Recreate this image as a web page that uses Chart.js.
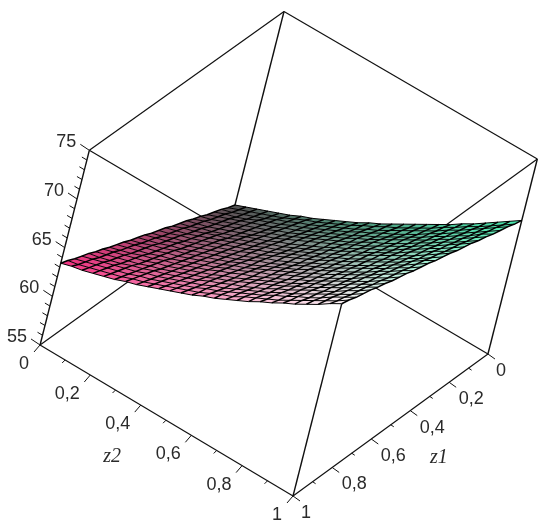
<!DOCTYPE html>
<html>
<head>
<meta charset="utf-8">
<title>Surface z1 z2</title>
<script src="https://cdn.jsdelivr.net/npm/chart.js@4"></script>
<style>
  html, body { margin: 0; padding: 0; background: #fff; }
  canvas { display: block; }
</style>
</head>
<body>
<canvas id="chartCanvas" width="550" height="532"></canvas>
<script>
// tick labels
const zTicks = [55, 60, 65, 70, 75];
const z1Ticks = [0, 0.2, 0.4, 0.6, 0.8, 1];
const z2Ticks = [0, 0.2, 0.4, 0.6, 0.8, 1];
const z1Minor = [0.1, 0.3, 0.5, 0.7, 0.9];
const z2Minor = [0.1, 0.3, 0.5, 0.7, 0.9];
const zMinor = [56, 57, 58, 59, 61, 62, 63, 64, 66, 67, 68, 69, 71, 72, 73, 74];

// surface values, one row per z2 step (0 to 1), one column per z1 step (0 to 1)
const surfaceZ = [
  [55.0,55.3,55.7,56.0,56.3,56.7,57.0,57.4,57.7,58.0,58.4,58.7,59.0,59.4,59.7,60.0,60.4,60.7,61.0,61.4,61.7,62.1,62.4,62.7,63.1,63.4],
  [55.4,55.7,56.0,56.4,56.7,57.0,57.4,57.7,58.0,58.4,58.7,59.0,59.3,59.7,60.0,60.3,60.7,61.0,61.3,61.7,62.0,62.3,62.7,63.0,63.3,63.7],
  [55.8,56.1,56.4,56.7,57.1,57.4,57.7,58.0,58.4,58.7,59.0,59.4,59.7,60.0,60.3,60.7,61.0,61.3,61.6,62.0,62.3,62.6,63.0,63.3,63.6,63.9],
  [56.2,56.5,56.8,57.1,57.5,57.8,58.1,58.4,58.7,59.1,59.4,59.7,60.0,60.4,60.7,61.0,61.3,61.6,62.0,62.3,62.6,62.9,63.3,63.6,63.9,64.2],
  [56.6,56.9,57.2,57.6,57.9,58.2,58.5,58.8,59.1,59.5,59.8,60.1,60.4,60.7,61.0,61.4,61.7,62.0,62.3,62.6,62.9,63.3,63.6,63.9,64.2,64.5],
  [57.0,57.3,57.7,58.0,58.3,58.6,58.9,59.2,59.5,59.8,60.2,60.5,60.8,61.1,61.4,61.7,62.0,62.3,62.7,63.0,63.3,63.6,63.9,64.2,64.5,64.8],
  [57.5,57.8,58.1,58.4,58.7,59.0,59.3,59.6,60.0,60.3,60.6,60.9,61.2,61.5,61.8,62.1,62.4,62.7,63.0,63.3,63.6,64.0,64.3,64.6,64.9,65.2],
  [57.9,58.3,58.6,58.9,59.2,59.5,59.8,60.1,60.4,60.7,61.0,61.3,61.6,61.9,62.2,62.5,62.8,63.1,63.4,63.7,64.0,64.3,64.6,64.9,65.2,65.5],
  [58.4,58.7,59.0,59.3,59.6,59.9,60.2,60.5,60.8,61.1,61.4,61.7,62.0,62.3,62.6,62.9,63.2,63.5,63.8,64.1,64.4,64.7,65.0,65.3,65.6,65.9],
  [58.9,59.2,59.5,59.8,60.1,60.4,60.7,61.0,61.3,61.6,61.9,62.2,62.5,62.7,63.0,63.3,63.6,63.9,64.2,64.5,64.8,65.1,65.4,65.7,66.0,66.3],
  [59.4,59.7,60.0,60.3,60.6,60.9,61.2,61.5,61.7,62.0,62.3,62.6,62.9,63.2,63.5,63.8,64.1,64.4,64.7,64.9,65.2,65.5,65.8,66.1,66.4,66.7],
  [59.9,60.2,60.5,60.8,61.1,61.4,61.7,62.0,62.2,62.5,62.8,63.1,63.4,63.7,64.0,64.2,64.5,64.8,65.1,65.4,65.7,66.0,66.2,66.5,66.8,67.1],
  [60.5,60.8,61.0,61.3,61.6,61.9,62.2,62.5,62.7,63.0,63.3,63.6,63.9,64.1,64.4,64.7,65.0,65.3,65.6,65.8,66.1,66.4,66.7,67.0,67.2,67.5],
  [61.0,61.3,61.6,61.9,62.1,62.4,62.7,63.0,63.2,63.5,63.8,64.1,64.4,64.6,64.9,65.2,65.5,65.8,66.0,66.3,66.6,66.9,67.1,67.4,67.7,68.0],
  [61.6,61.9,62.1,62.4,62.7,63.0,63.2,63.5,63.8,64.1,64.3,64.6,64.9,65.1,65.4,65.7,66.0,66.2,66.5,66.8,67.1,67.3,67.6,67.9,68.2,68.4],
  [62.2,62.4,62.7,63.0,63.2,63.5,63.8,64.1,64.3,64.6,64.9,65.1,65.4,65.7,66.0,66.2,66.5,66.8,67.0,67.3,67.6,67.8,68.1,68.4,68.6,68.9],
  [62.8,63.0,63.3,63.5,63.8,64.1,64.4,64.6,64.9,65.2,65.4,65.7,66.0,66.2,66.5,66.8,67.0,67.3,67.5,67.8,68.1,68.3,68.6,68.9,69.2,69.4],
  [63.4,63.6,63.9,64.1,64.4,64.7,64.9,65.2,65.5,65.7,66.0,66.2,66.5,66.8,67.0,67.3,67.6,67.8,68.1,68.3,68.6,68.9,69.1,69.4,69.7,69.9],
  [64.0,64.2,64.5,64.7,65.0,65.3,65.5,65.8,66.0,66.3,66.6,66.8,67.1,67.3,67.6,67.9,68.1,68.4,68.6,68.9,69.2,69.4,69.7,70.0,70.2,70.5],
  [64.6,64.9,65.1,65.4,65.6,65.9,66.1,66.4,66.6,66.9,67.2,67.4,67.7,67.9,68.2,68.4,68.7,68.9,69.2,69.5,69.7,70.0,70.2,70.5,70.7,71.0],
  [65.3,65.5,65.8,66.0,66.3,66.5,66.8,67.0,67.3,67.5,67.8,68.0,68.3,68.5,68.8,69.0,69.3,69.5,69.8,70.0,70.3,70.6,70.8,71.1,71.3,71.6],
  [65.9,66.2,66.4,66.7,66.9,67.2,67.4,67.7,67.9,68.2,68.4,68.6,68.9,69.1,69.4,69.6,69.9,70.1,70.4,70.6,70.9,71.1,71.4,71.6,71.9,72.1],
  [66.6,66.8,67.1,67.3,67.6,67.8,68.1,68.3,68.6,68.8,69.0,69.3,69.5,69.8,70.0,70.3,70.5,70.8,71.0,71.3,71.5,71.7,72.0,72.2,72.5,72.7],
  [67.3,67.5,67.8,68.0,68.2,68.5,68.7,69.0,69.2,69.5,69.7,69.9,70.2,70.4,70.7,70.9,71.2,71.4,71.6,71.9,72.1,72.4,72.6,72.9,73.1,73.3],
  [68.0,68.2,68.5,68.7,69.0,69.2,69.4,69.7,69.9,70.1,70.4,70.6,70.9,71.1,71.3,71.6,71.8,72.0,72.3,72.5,72.8,73.0,73.2,73.5,73.7,74.0],
  [68.7,68.9,69.2,69.4,69.6,69.9,70.1,70.4,70.6,70.8,71.1,71.3,71.5,71.8,72.0,72.2,72.5,72.7,72.9,73.2,73.4,73.7,73.9,74.1,74.4,74.6]
];

const zMin = 55;
const zMax = 75;

// camera for the 3D box: maps z1, z2, z to the chart's x and y
const project = (z1, z2, z) => {
  const w = (z - zMin) / (zMax - zMin);
  const d = 1 - 0.006 * z1 - 0.0077 * z2;
  return {
    x: (235 - 195.2 * z1 + 249.2 * z2 + 49 * w) / d,
    y: (205 + 137.9 * z1 + 146.3 * z2 - 193.5 * w) / d
  };
};

const lineSet = (from, to, width) => ({
  data: [from, to],
  showLine: true,
  pointRadius: 0,
  borderColor: '#111',
  borderWidth: width
});

const shift = (p, dx, dy) => ({ x: p.x + dx, y: p.y + dy });

const datasets = [];

// box edges
const boxCorners = [[0, 0], [1, 0], [1, 1], [0, 1]];
boxCorners.forEach((c, i) => {
  const n = boxCorners[(i + 1) % 4];
  datasets.push(lineSet(project(c[0], c[1], zMin), project(n[0], n[1], zMin), 1.2));
  datasets.push(lineSet(project(c[0], c[1], zMax), project(n[0], n[1], zMax), 1.2));
  datasets.push(lineSet(project(c[0], c[1], zMin), project(c[0], c[1], zMax), 1.4));
});

// ticks
const addTick = (p, dx, dy) => datasets.push(lineSet(p, shift(p, dx, dy), 1));
z2Ticks.forEach(t => addTick(project(1, t, zMin), -6, 7));
z2Minor.forEach(t => addTick(project(1, t, zMin), -3, 3));
z1Ticks.forEach(t => addTick(project(t, 1, zMin), 7, 5));
z1Minor.forEach(t => addTick(project(t, 1, zMin), 3, 2));
zTicks.forEach(t => addTick(project(1, 0, t), -9, -6));
zMinor.forEach(t => addTick(project(1, 0, t), -5, -3));

// surface points, the plugin below paints them as a mesh on top of the box
const surfacePoints = [];
surfaceZ.forEach((row, j) => {
  row.forEach((z, i) => {
    surfacePoints.push(project(i / (row.length - 1), j / (surfaceZ.length - 1), z));
  });
});
const surfaceIndex = datasets.length;
datasets.push({ data: surfacePoints, showLine: false, pointRadius: 0 });

// corner colours of the shading
const cBack = [80, 80, 80];
const cLeft = [245, 50, 130];
const cRight = [70, 235, 175];
const cFront = [255, 245, 248];

const cellColor = (u, v) => {
  const c = cBack.map((b, k) =>
    b * (1 - u) * (1 - v) + cLeft[k] * u * (1 - v) + cRight[k] * (1 - u) * v + cFront[k] * u * v);
  return `rgb(${Math.round(c[0])},${Math.round(c[1])},${Math.round(c[2])})`;
};

const surfacePlugin = {
  id: 'surfacePlugin',
  afterDatasetsDraw(chart) {
    const { ctx, scales } = chart;
    const pts = chart.data.datasets[surfaceIndex].data;
    const nv = surfaceZ.length;
    const nu = surfaceZ[0].length;
    const px = (j, i) => {
      const p = pts[j * nu + i];
      return [scales.x.getPixelForValue(p.x), scales.y.getPixelForValue(p.y)];
    };
    ctx.save();
    ctx.lineWidth = 1.5;
    ctx.strokeStyle = '#000';
    ctx.lineJoin = 'round';
    for (let j = 0; j < nv - 1; j++) {
      for (let i = 0; i < nu - 1; i++) {
        ctx.beginPath();
        ctx.moveTo(...px(j, i));
        ctx.lineTo(...px(j, i + 1));
        ctx.lineTo(...px(j + 1, i + 1));
        ctx.lineTo(...px(j + 1, i));
        ctx.closePath();
        ctx.fillStyle = cellColor((i + 0.5) / (nu - 1), (j + 0.5) / (nv - 1));
        ctx.fill();
      }
    }
    // the mesh goes over the fills, thin so the cells stay readable
    for (let j = 0; j < nv; j++) {
      ctx.beginPath();
      for (let i = 0; i < nu; i++) ctx.lineTo(...px(j, i));
      ctx.stroke();
    }
    ctx.lineWidth = 1;
    for (let i = 0; i < nu; i++) {
      ctx.beginPath();
      for (let j = 0; j < nv; j++) ctx.lineTo(...px(j, i));
      ctx.stroke();
    }
    ctx.restore();
  }
};

const tickText = t => String(t).replace('.', ',');

const labelPlugin = {
  id: 'labelPlugin',
  afterDraw(chart) {
    const { ctx, scales } = chart;
    const put = (p, dx, dy, text) => {
      ctx.fillText(text, scales.x.getPixelForValue(p.x) + dx, scales.y.getPixelForValue(p.y) + dy);
    };
    ctx.save();
    ctx.fillStyle = '#2a2a2a';
    ctx.textAlign = 'center';
    ctx.textBaseline = 'middle';
    ctx.font = '18px "Liberation Sans", sans-serif';
    zTicks.forEach(t => put(project(1, 0, t), -23, -8, tickText(t)));
    z2Ticks.forEach(t => put(project(1, t, zMin), t === 0 || t === 1 ? -16 : -23, 19, tickText(t)));
    z1Ticks.forEach(t => put(project(t, 1, zMin), t === 0 || t === 1 ? 13 : 22, 17, tickText(t)));
    ctx.font = 'italic 20px "Liberation Serif", serif';
    put(project(1, 0.5, zMin), -54, 37, 'z2');
    put(project(0.5, 1, zMin), 48, 33, 'z1');
    ctx.restore();
  }
};

new Chart(document.getElementById('chartCanvas').getContext('2d'), {
  type: 'scatter',
  data: { datasets },
  options: {
    responsive: false,
    animation: false,
    layout: { padding: 0 },
    plugins: { legend: { display: false }, tooltip: { enabled: false } },
    scales: {
      x: { type: 'linear', min: 0, max: 550, display: false },
      y: { type: 'linear', min: 0, max: 532, reverse: true, display: false }
    }
  },
  plugins: [surfacePlugin, labelPlugin]
});
</script>
</body>
</html>
